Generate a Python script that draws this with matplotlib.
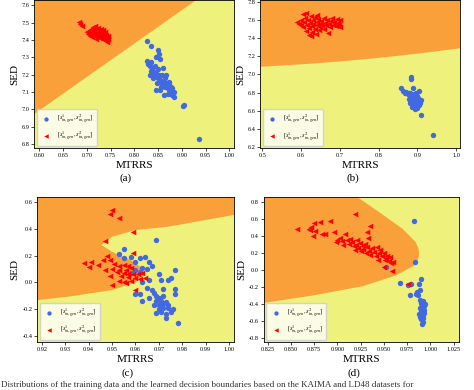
import matplotlib
matplotlib.use("Agg")
import matplotlib.pyplot as plt
import numpy as np

plt.rcParams['font.family'] = ['Liberation Serif', 'DejaVu Serif']
plt.rcParams['mathtext.fontset'] = 'stix'

ORANGE = '#F9A03A'
YELLOW = '#EEF27C'
BLUE = '#4169E1'
RED = '#FF0000'

LABEL_BLUE = r'$[s^{1}_{tn,gen},s^{2}_{tn,gen}]$'
LABEL_RED = r'$[s^{1}_{tn,gen},s^{2}_{tn,gen}]$'

# ---- panel (a) ----
a_red_x = [0.683, 0.686, 0.690, 0.700, 0.703, 0.706, 0.708, 0.710, 0.712, 0.713, 0.715, 0.716, 0.717,
           0.718, 0.720, 0.721, 0.722, 0.723, 0.724, 0.725, 0.726, 0.727, 0.728, 0.729, 0.730, 0.731,
           0.732, 0.733, 0.734, 0.735, 0.736, 0.737, 0.738, 0.739, 0.740, 0.741, 0.742, 0.743, 0.744,
           0.745, 0.711, 0.707, 0.719, 0.714, 0.702]
a_red_y = [7.502, 7.492, 7.478, 7.445, 7.452, 7.440, 7.460, 7.448, 7.432, 7.470, 7.455, 7.440, 7.425,
           7.478, 7.462, 7.448, 7.433, 7.418, 7.470, 7.455, 7.440, 7.425, 7.410, 7.465, 7.450, 7.435,
           7.420, 7.405, 7.455, 7.440, 7.425, 7.410, 7.398, 7.445, 7.430, 7.415, 7.400, 7.390, 7.425,
           7.408, 7.418, 7.425, 7.408, 7.475, 7.432]
a_blue_x = [0.827, 0.8345, 0.826, 0.828, 0.832, 0.835, 0.838, 0.840, 0.842, 0.845, 0.848, 0.850, 0.852,
            0.855, 0.857, 0.860, 0.862, 0.865, 0.867, 0.870, 0.872, 0.875, 0.878, 0.880, 0.883, 0.845,
            0.855, 0.862, 0.870, 0.836, 0.844, 0.850, 0.858, 0.865, 0.872, 0.878, 0.840, 0.848, 0.856,
            0.833, 0.845, 0.850, 0.853, 0.855, 0.860, 0.866, 0.874, 0.880, 0.884, 0.902, 0.904, 0.937]
a_blue_y = [7.393, 7.366, 7.280, 7.260, 7.250, 7.270, 7.240, 7.220, 7.200, 7.210, 7.190, 7.180, 7.200,
            7.170, 7.150, 7.160, 7.140, 7.130, 7.150, 7.120, 7.110, 7.100, 7.090, 7.080, 7.070, 7.110,
            7.110, 7.080, 7.090, 7.220, 7.250, 7.230, 7.200, 7.180, 7.150, 7.130, 7.180, 7.150, 7.130,
            7.200, 7.300, 7.340, 7.320, 7.290, 7.240, 7.200, 7.160, 7.120, 7.100, 7.020, 7.025, 6.830]
a_bound_x = [0.5895, 0.928]
a_bound_y = [6.978, 7.630]

# ---- panel (b) ----
b_red_x = [0.605, 0.612, 0.590, 0.595, 0.600, 0.600, 0.605, 0.608, 0.610, 0.612, 0.615, 0.618, 0.620,
           0.620, 0.622, 0.625, 0.627, 0.628, 0.630, 0.632, 0.635, 0.636, 0.638, 0.640, 0.642, 0.645,
           0.646, 0.648, 0.650, 0.652, 0.655, 0.658, 0.660, 0.662, 0.665, 0.668, 0.670, 0.672, 0.675,
           0.678, 0.680, 0.683, 0.686, 0.690, 0.692, 0.695, 0.698, 0.700, 0.700, 0.640, 0.625]
b_red_y = [7.67, 7.68, 7.58, 7.56, 7.60, 7.54, 7.52, 7.58, 7.62, 7.48, 7.55, 7.60, 7.43,
           7.51, 7.57, 7.64, 7.47, 7.53, 7.60, 7.56, 7.50, 7.63, 7.45, 7.58, 7.54, 7.61,
           7.49, 7.56, 7.52, 7.59, 7.55, 7.62, 7.50, 7.57, 7.54, 7.60, 7.46, 7.56, 7.52,
           7.59, 7.62, 7.55, 7.58, 7.53, 7.61, 7.57, 7.55, 7.60, 7.52, 7.66, 7.42]
b_blue_x = [0.884, 0.883, 0.858, 0.862, 0.868, 0.872, 0.875, 0.878, 0.880, 0.882, 0.885, 0.887, 0.890,
            0.890, 0.892, 0.895, 0.897, 0.900, 0.900, 0.902, 0.905, 0.905, 0.888, 0.893, 0.898, 0.883,
            0.878, 0.886, 0.891, 0.896, 0.903, 0.908, 0.895, 0.900, 0.910, 0.880, 0.887, 0.910, 0.940]
b_blue_y = [6.975, 6.945, 6.845, 6.820, 6.800, 6.810, 6.780, 6.800, 6.760, 6.790, 6.740, 6.770, 6.850,
            6.720, 6.750, 6.700, 6.730, 6.680, 6.760, 6.710, 6.660, 6.820, 6.680, 6.650, 6.640, 6.710,
            6.730, 6.700, 6.780, 6.800, 6.740, 6.690, 6.620, 6.630, 6.720, 6.680, 6.640, 6.550, 6.335]
b_bound_x = [0.495, 0.6, 0.7, 0.8, 0.9, 1.0095]
b_bound_y = [7.092, 7.114, 7.150, 7.188, 7.238, 7.293]

# ---- panel (c) ----
c_red_x = [0.950, 0.949, 0.953, 0.959, 0.947, 0.959, 0.948, 0.938, 0.941, 0.940, 0.946, 0.949, 0.951,
           0.953, 0.955, 0.957, 0.950, 0.953, 0.956, 0.958, 0.952, 0.955, 0.957, 0.959, 0.961, 0.963,
           0.954, 0.957, 0.960, 0.953, 0.956, 0.958, 0.950, 0.949, 0.947, 0.944, 0.955, 0.960, 0.962,
           0.964]
c_red_y = [0.545, 0.515, 0.485, 0.380, 0.310, 0.220, 0.200, 0.148, 0.152, 0.118, 0.165, 0.170, 0.140,
           0.125, 0.130, 0.125, 0.100, 0.090, 0.095, 0.110, 0.075, 0.070, 0.060, 0.065, 0.065, 0.070,
           0.050, 0.040, 0.030, 0.010, -0.005, 0.010, -0.020, 0.045, 0.090, 0.130, 0.000, -0.055, 0.025,
           0.030]
c_blue_x = [0.969, 0.955, 0.953, 0.958, 0.955, 0.962, 0.964, 0.966, 0.967, 0.960, 0.963, 0.965, 0.962,
            0.958, 0.960, 0.970, 0.971, 0.966, 0.963, 0.965, 0.967, 0.962, 0.960, 0.963, 0.966, 0.968,
            0.969, 0.970, 0.971, 0.972, 0.973, 0.970, 0.972, 0.974, 0.971, 0.969, 0.973, 0.975, 0.973,
            0.974, 0.975, 0.977, 0.977, 0.977, 0.972, 0.978, 0.968, 0.970, 0.972, 0.969, 0.974, 0.971,
            0.976]
c_blue_y = [0.320, 0.250, 0.210, 0.190, 0.180, 0.180, 0.190, 0.155, 0.120, 0.150, 0.105, 0.100, 0.080,
            0.070, 0.095, 0.065, 0.020, 0.020, 0.000, -0.040, -0.060, -0.090, -0.090, -0.140, -0.120, -0.080,
            -0.100, -0.120, -0.140, -0.100, -0.150, -0.170, -0.190, -0.170, -0.220, -0.230, -0.240, -0.220, -0.270,
            0.020, 0.030, 0.090, -0.050, -0.085, -0.050, -0.305, -0.170, -0.200, -0.160, -0.140, -0.190, -0.180,
            -0.200]
# boundary read as x at given y (orange on the left of it)
c_bound_y = [-0.447, -0.133, -0.108, -0.058, 0.000, 0.055, 0.105, 0.167, 0.229, 0.280, 0.342, 0.392, 0.417, 0.505, 0.642]
c_bound_x = [0.860, 0.918, 0.931, 0.950, 0.960, 0.964, 0.963, 0.958, 0.950, 0.9455, 0.950, 0.960, 0.974, 1.002, 1.060]

# ---- panel (d) ----
d_red_x = [0.857, 0.869, 0.872, 0.875, 0.881, 0.892, 0.919, 0.935, 0.932, 0.874, 0.871, 0.876, 0.883,
           0.887, 0.896, 0.900, 0.903, 0.905, 0.908, 0.910, 0.912, 0.914, 0.916, 0.918, 0.919, 0.920,
           0.922, 0.924, 0.925, 0.927, 0.928, 0.930, 0.931, 0.932, 0.934, 0.935, 0.933, 0.937, 0.939,
           0.941, 0.943, 0.945, 0.946, 0.948, 0.950, 0.951, 0.953, 0.955, 0.956, 0.958, 0.960, 0.959,
           0.950, 0.952, 0.921, 0.906, 0.898, 0.944, 0.976]
d_red_y = [0.49, 0.49, 0.51, 0.55, 0.57, 0.58, 0.66, 0.52, 0.45, 0.40, 0.47, 0.46, 0.43,
           0.42, 0.45, 0.36, 0.38, 0.34, 0.42, 0.35, 0.31, 0.37, 0.33, 0.28, 0.24, 0.30,
           0.26, 0.32, 0.22, 0.28, 0.25, 0.31, 0.20, 0.27, 0.23, 0.18, 0.38, 0.26, 0.21,
           0.16, 0.27, 0.20, 0.24, 0.16, 0.20, 0.12, 0.17, 0.11, 0.15, 0.08, 0.10, -0.01,
           0.04, 0.14, 0.35, 0.29, 0.33, 0.12, -0.17]
d_blue_x = [0.982, 0.983, 0.952, 0.967, 0.976, 0.979, 0.978, 0.984, 0.986, 0.988, 0.990, 0.987, 0.989,
            0.989, 0.990, 0.991, 0.992, 0.993, 0.989, 0.990, 0.991, 0.992, 0.989, 0.990, 0.992, 0.991,
            0.993, 0.994, 0.988, 0.990, 0.992, 0.993]
d_blue_y = [0.58, 0.10, 0.04, -0.15, -0.18, -0.17, -0.29, -0.28, -0.26, -0.17, -0.11, -0.30, -0.24,
            -0.36, -0.39, -0.41, -0.37, -0.43, -0.45, -0.48, -0.50, -0.53, -0.55, -0.58, -0.61, -0.64,
            -0.47, -0.40, -0.52, -0.44, -0.57, -0.51]
d_bound_y = [-0.851, -0.382, -0.296, -0.186, -0.059, 0.059, 0.130, 0.197, 0.260, 0.334, 0.493, 0.689, 0.866]
d_bound_x = [0.600, 0.8207, 0.8726, 0.9264, 0.9622, 0.982, 0.9862, 0.9874, 0.9865, 0.9837, 0.9694, 0.9444, 0.921]

W, H = 474, 390
fig = plt.figure(figsize=(W / 100, H / 100), dpi=100)

def make_ax(l, r, t, b):
    return fig.add_axes([l / W, 1 - b / H, (r - l) / W, (b - t) / H])

ax_a = make_ax(34.3, 234.3, 0, 148)
ax_b = make_ax(260.3, 459.7, 0, 148.3)
ax_c = make_ax(37.3, 234.3, 196.7, 342)
ax_d = make_ax(263.7, 459.3, 196.7, 342)

limits = {
    'a': ((0.5895, 1.0105), (6.777, 7.63)),
    'b': ((0.4948, 1.0095), (6.186, 7.82)),
    'c': ((0.918, 1.0023), (-0.447, 0.642)),
    'd': ((0.8207, 1.031), (-0.851, 0.866)),
}

# (a) straight boundary, orange above
xx = np.linspace(*limits['a'][0], 200)
k = (a_bound_y[1] - a_bound_y[0]) / (a_bound_x[1] - a_bound_x[0])
line = a_bound_y[0] + k * (xx - a_bound_x[0])
ax_a.fill_between(xx, line, 8.0, color=ORANGE, lw=0)

# (b) slightly curved boundary, orange above
xx = np.linspace(*limits['b'][0], 200)
pb = np.polyfit(b_bound_x, b_bound_y, 2)
ax_b.fill_between(xx, np.polyval(pb, xx), 8.0, color=ORANGE, lw=0)

# (c), (d) boundaries as x = f(y), orange on the left
for ax, key, by, bx in [(ax_c, 'c', c_bound_y, c_bound_x), (ax_d, 'd', d_bound_y, d_bound_x)]:
    ax.fill_betweenx(by, limits[key][0][0] - 0.2, bx, color=ORANGE, lw=0)

panels = [
    (ax_a, 'a', a_blue_x, a_blue_y, a_red_x, a_red_y, np.arange(0.60, 1.001, 0.05), '%.2f', np.arange(6.8, 7.61, 0.1), '%.1f'),
    (ax_b, 'b', b_blue_x, b_blue_y, b_red_x, b_red_y, np.arange(0.5, 1.001, 0.1), '%.1f', np.arange(6.2, 7.81, 0.2), '%.1f'),
    (ax_c, 'c', c_blue_x, c_blue_y, c_red_x, c_red_y, np.arange(0.92, 1.0001, 0.01), '%.2f', np.arange(-0.4, 0.61, 0.2), '%.1f'),
    (ax_d, 'd', d_blue_x, d_blue_y, d_red_x, d_red_y, np.arange(0.825, 1.0251, 0.025), '%.3f', np.arange(-0.8, 0.81, 0.2), '%.1f'),
]

for ax, key, bx, by, rx, ry, xt, xf, yt, yf in panels:
    ax.set_facecolor(YELLOW)
    ax.scatter(bx, by, s=15, marker='o', color=BLUE, lw=0, label=LABEL_BLUE, zorder=3)
    ax.scatter(rx, ry, s=16, marker='<', color=RED, lw=0, label=LABEL_RED, zorder=3)
    ax.set_xlim(*limits[key][0])
    ax.set_ylim(*limits[key][1])
    ax.set_xticks(xt)
    ax.set_xticklabels([xf % v for v in xt])
    ax.set_yticks(yt)
    ax.set_yticklabels([yf % v if abs(v) > 1e-9 else yf % 0.0 for v in yt])
    ax.tick_params(labelsize=4.5, length=2, width=0.5, pad=1.5)
    for sp in ax.spines.values():
        sp.set_linewidth(0.6)
    ax.set_xlabel('MTRRS', fontsize=8, labelpad=2)
    ax.set_ylabel('SED', fontsize=8, labelpad=2)
    ax.legend(loc='lower left', fontsize=4.5, markerscale=0.8, handletextpad=0.8,
              borderpad=0.5, labelspacing=0.7, fancybox=True, framealpha=0.8,
              borderaxespad=0.4)

fig.text(126 / W, 1 - 178 / H, '(a)', ha='center', va='center', fontsize=8)
fig.text(352.7 / W, 1 - 178 / H, '(b)', ha='center', va='center', fontsize=8)
fig.text(128 / W, 1 - 373 / H, '(c)', ha='center', va='center', fontsize=8)
fig.text(354 / W, 1 - 373 / H, '(d)', ha='center', va='center', fontsize=8)

fig.text(0.002, 0.002, 'Distributions of the training data and the learned decision boundaries based on the '
         'KAIMA and LD48 datasets for', ha='left', va='bottom', fontsize=6.5, color='#333333')

fig.savefig('out.png', dpi=100)
